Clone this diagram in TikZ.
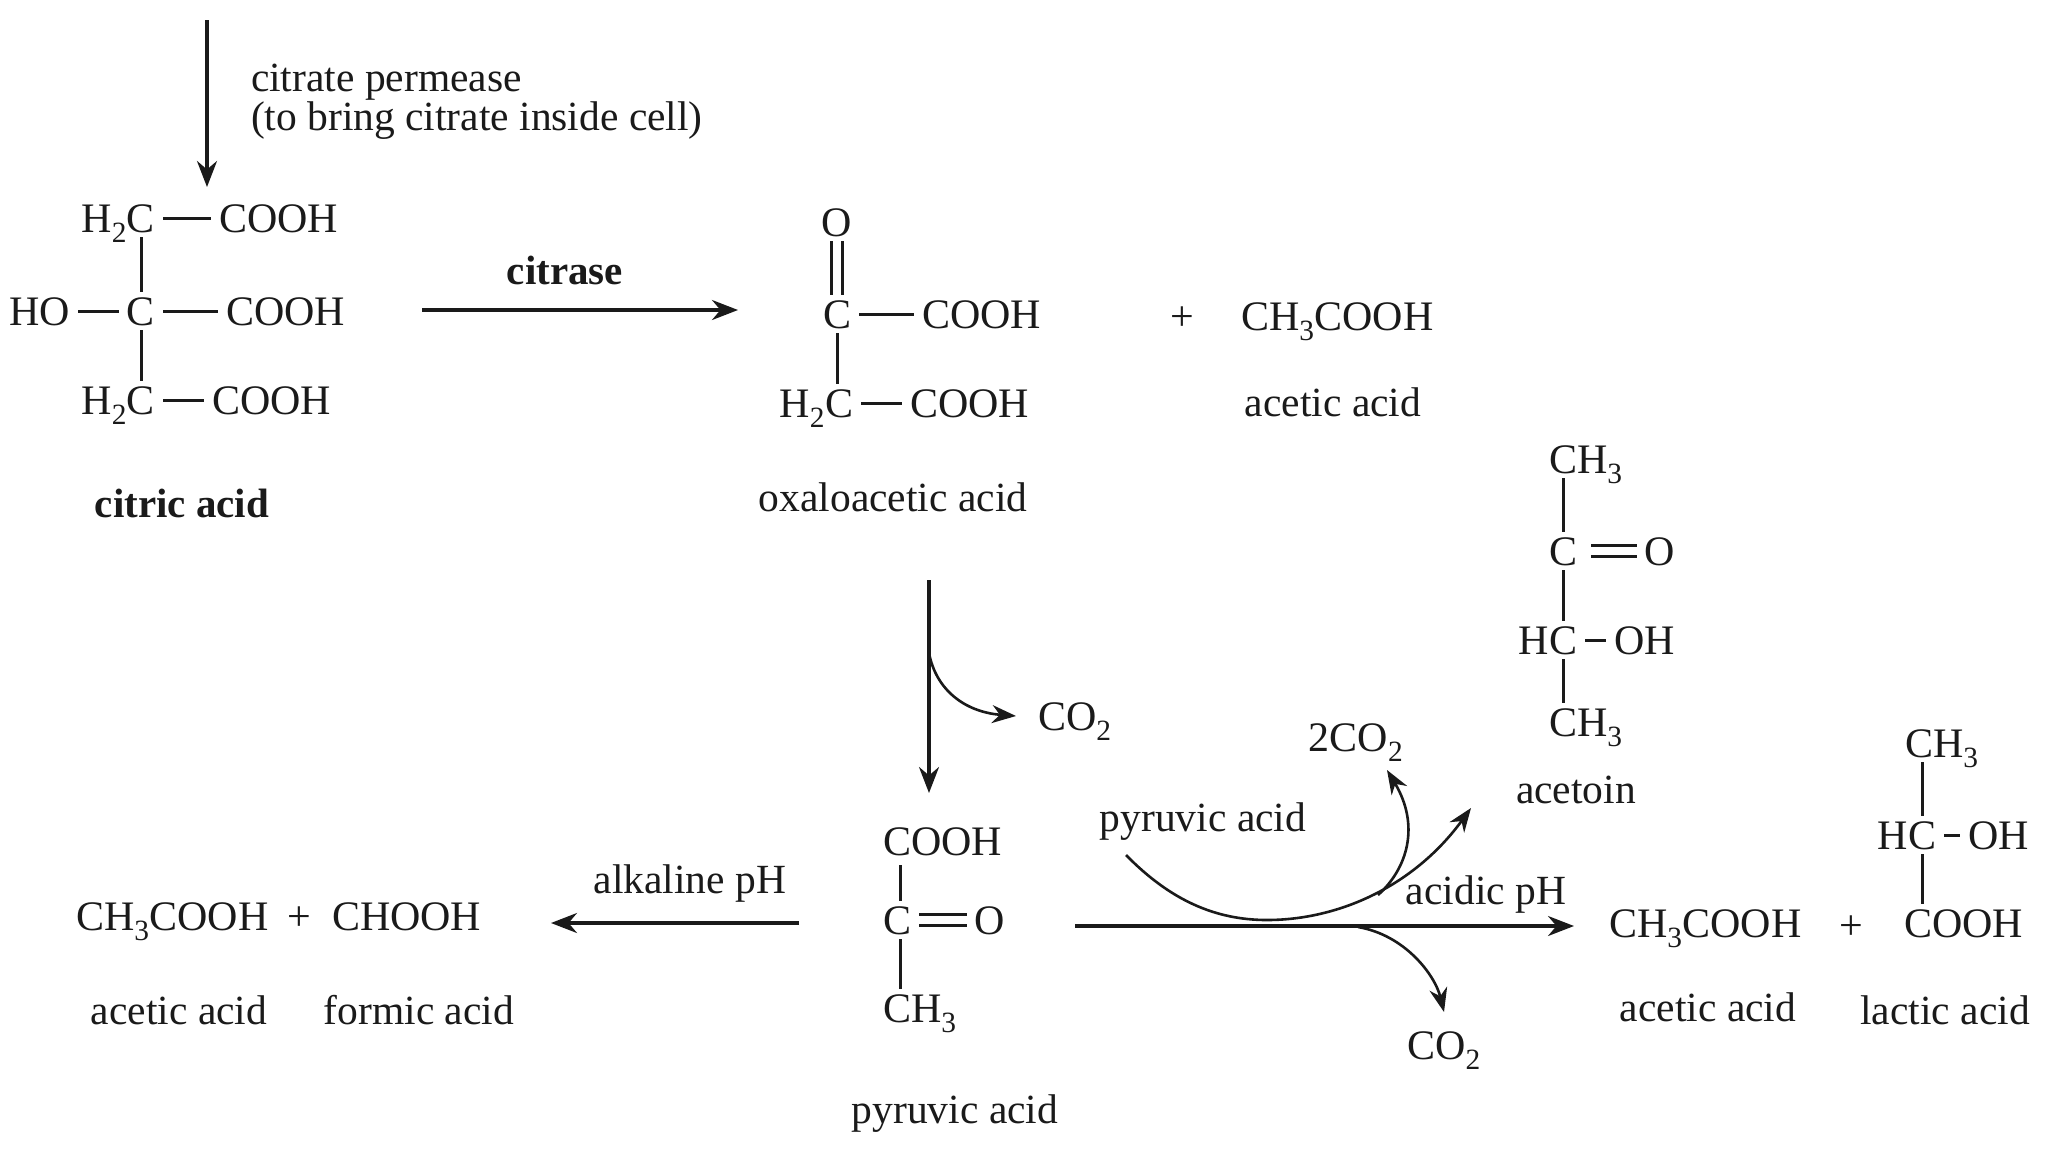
\documentclass[tikz,border=0pt]{standalone}
\usepackage{fontspec}
\setmainfont{Liberation Serif}
\usetikzlibrary{arrows.meta}
\definecolor{ink}{HTML}{1A1A1A}
\tikzset{
  chemfont/.style={font=\fontsize{42}{46}\selectfont, text=ink},
  atom/.style={chemfont, text height=28pt, text depth=0pt, inner xsep=8pt, inner ysep=5pt, outer sep=0pt},
  piece/.style={chemfont, text height=28pt, text depth=0pt, inner sep=0pt, outer sep=0pt},
  lab/.style={font=\fontsize{41.5}{46}\selectfont, text=ink, inner sep=0pt, outer sep=0pt},
  boldlab/.style={lab, font=\fontsize{41}{46}\selectfont\bfseries},
  bond/.style={draw=ink, line width=3pt},
  rxn/.style={draw=ink, line width=3.2pt, -{Stealth[length=26pt,width=20pt]}},
  bent/.style={draw=ink, line width=2.6pt, -{Stealth[length=24pt,width=18pt]}},
}
\begin{document}
\begin{tikzpicture}[x=1pt,y=-1pt]
\useasboundingbox[fill=white] (0,0) rectangle (2048,1152);

% --- citrate permease arrow
\coordinate (p0) at (207,20);
\coordinate (p1) at (207,187);
\draw[rxn] (p0) -- (p1);
\node[lab,anchor=west] (perm1) at (251,82) {citrate permease};
\node[lab,anchor=west] (perm2) at (251,121) {(to bring citrate inside cell)};

% --- citric acid
\node[atom] (ca1) at (141,218) {C};
\node[piece,anchor=east] (ca1h) at ([xshift=8pt]ca1.west) {H\textsubscript{2}};
\node[atom,anchor=west] (ca1r) at (211,218) {COOH};
\node[atom] (ca2) at (141,311) {C};
\node[atom,anchor=east] (ca2l) at (78,311) {HO};
\node[atom,anchor=west] (ca2r) at (218,311) {COOH};
\node[atom] (ca3) at (141,400) {C};
\node[piece,anchor=east] (ca3h) at ([xshift=8pt]ca3.west) {H\textsubscript{2}};
\node[atom,anchor=west] (ca3r) at (204,400) {COOH};
\draw[bond] (ca1) -- (ca1r);
\draw[bond] (ca2l) -- (ca2);
\draw[bond] (ca2) -- (ca2r);
\draw[bond] (ca3) -- (ca3r);
\draw[bond] (ca1) -- (ca2);
\draw[bond] (ca2) -- (ca3);
\node[boldlab] (citric) at (182,503) {citric acid};

% --- citrase
\node[boldlab] (citrase) at (565,270) {citrase};
\coordinate (c0) at (422,310);
\coordinate (c1) at (738,310);
\draw[rxn] (c0) -- (c1);

% --- oxaloacetic acid
\node[atom] (oxO) at (837,222) {O};
\node[atom] (ox1) at (837,314) {C};
\node[atom,anchor=west] (ox1r) at (914,314) {COOH};
\node[atom] (ox2) at (839,403) {C};
\node[piece,anchor=east] (ox2h) at ([xshift=8pt]ox2.west) {H\textsubscript{2}};
\node[atom,anchor=west] (ox2r) at (902,403) {COOH};
\draw[bond] ([xshift=-5.5pt]oxO.south) -- ([xshift=-5.5pt]ox1.north);
\draw[bond] ([xshift=5.5pt]oxO.south) -- ([xshift=5.5pt]ox1.north);
\draw[bond] (ox1) -- (ox1r);
\draw[bond] (ox1) -- (ox1 |- ox2.north);
\draw[bond] (ox2) -- (ox2r);
\node[lab] (oxname) at (893,497) {oxaloacetic acid};

\node[piece] (plus1) at (1182,316) {+};
\node[piece,anchor=west] (ac1) at (1241,316) {CH\textsubscript{3}COOH};
\node[lab] (ac1n) at (1333,402) {acetic acid};

% --- acetoin
\node[atom] (at1) at (1563,459) {C};
\node[piece,anchor=west] (at1h) at ([xshift=-8pt]at1.east) {H\textsubscript{3}};
\node[atom] (at2) at (1563,551) {C};
\node[atom] (at2o) at (1660,551) {O};
\node[atom] (at3) at (1563,640) {C};
\node[piece,anchor=east] (at3h) at ([xshift=8pt]at3.west) {H};
\node[atom,anchor=west] (at3r) at (1606,640) {OH};
\node[atom] (at4) at (1563,722) {C};
\node[piece,anchor=west] (at4h) at ([xshift=-8pt]at4.east) {H\textsubscript{3}};
\draw[bond] (at1) -- (at2);
\draw[bond] ([yshift=-5.5pt,xshift=6pt]at2.east) -- ([yshift=-5.5pt]at2o.west);
\draw[bond] ([yshift=5.5pt,xshift=6pt]at2.east) -- ([yshift=5.5pt]at2o.west);
\draw[bond] (at2) -- (at3);
\draw[bond] (at3) -- (at3r);
\draw[bond] (at3) -- (at4);
\node[lab] (acetoin) at (1576,790) {acetoin};

% --- lactic acid
\node[atom] (la1) at (1919,743) {C};
\node[piece,anchor=west] (la1h) at ([xshift=-8pt]la1.east) {H\textsubscript{3}};
\node[atom] (la2) at (1922,835) {C};
\node[piece,anchor=east] (la2h) at ([xshift=8pt]la2.west) {H};
\node[atom,anchor=west] (la2r) at (1960,835) {OH};
\node[atom,anchor=west] (la3) at (1896,923) {COOH};
\coordinate (la3t) at (1922,904);
\draw[bond] (la2 |- la1.south) -- (la2);
\draw[bond] (la2) -- (la2r);
\draw[bond] (la2) -- (la3t);
\node[lab] (lactic) at (1945,1010) {lactic acid};
\node[piece] (plus3) at (1851,925) {+};
\node[piece,anchor=west] (ac3) at (1609,923) {CH\textsubscript{3}COOH};
\node[lab] (ac3n) at (1708,1007) {acetic acid};

% --- oxaloacetic to pyruvic
\coordinate (d0) at (929,580);
\coordinate (d1) at (929,793);
\coordinate (dbr) at (929,653);
\coordinate (dco) at (1016,716);
\draw[rxn] (d0) -- (d1);
\draw[bent] (dbr) .. controls (936,690) and (965,712) .. (dco);
\node[piece,anchor=west] (co2a) at (1038,716) {CO\textsubscript{2}};

% --- pyruvic acid
\node[atom,anchor=west] (py1) at (875,841) {COOH};
\node[atom] (py2) at (897,920) {C};
\node[atom] (py2o) at (990,920) {O};
\node[atom] (py3) at (897,1008) {C};
\node[piece,anchor=west] (py3h) at ([xshift=-8pt]py3.east) {H\textsubscript{3}};
\coordinate (py1b) at (900,865);
\draw[bond] (py1b) -- (py1b |- py2.north);
\draw[bond] ([yshift=-5.5pt]py2.east) -- ([yshift=-5.5pt]py2o.west);
\draw[bond] ([yshift=5.5pt]py2.east) -- ([yshift=5.5pt]py2o.west);
\draw[bond] (py1b |- py2.south) -- (py1b |- py3.north);
\node[lab] (pyname) at (955,1114) {pyruvic acid};

% --- alkaline branch
\coordinate (l0) at (799,923);
\coordinate (l1) at (551,923);
\draw[rxn] (l0) -- (l1);
\node[lab] (alk) at (690,884) {alkaline pH};
\node[piece,anchor=west] (ac2) at (76,916) {CH\textsubscript{3}COOH};
\node[piece] (plus2) at (299,916) {+};
\node[piece,anchor=west] (form) at (332,916) {CHOOH};
\node[lab] (ac2n) at (179,1010) {acetic acid};
\node[lab] (formn) at (419,1010) {formic acid};

% --- acidic branch
\coordinate (r0) at (1075,926);
\coordinate (r1) at (1574,926);
\draw[rxn] (r0) -- (r1);
\node[lab] (acid) at (1486,895) {acidic pH};
\node[lab] (pyr2) at (1203,822) {pyruvic acid};
\node[piece] (co2b) at (1356,737) {2CO\textsubscript{2}};
\node[piece] (co2c) at (1444,1045) {CO\textsubscript{2}};
\coordinate (k0) at (1126,855);
\coordinate (k1) at (1471,808);
\draw[bent] (k0) .. controls (1170,900) and (1215,920) .. (1267,920)
  .. controls (1340,920) and (1415,885) .. (k1);
\coordinate (m0) at (1378,895);
\coordinate (m1) at (1387,770);
\draw[bent] (m0) .. controls (1408,868) and (1420,825) .. (m1);
\coordinate (n0) at (1358,927);
\coordinate (n1) at (1444,1012);
\draw[bent] (n0) .. controls (1405,935) and (1435,975) .. (n1);
\end{tikzpicture}
\end{document}
